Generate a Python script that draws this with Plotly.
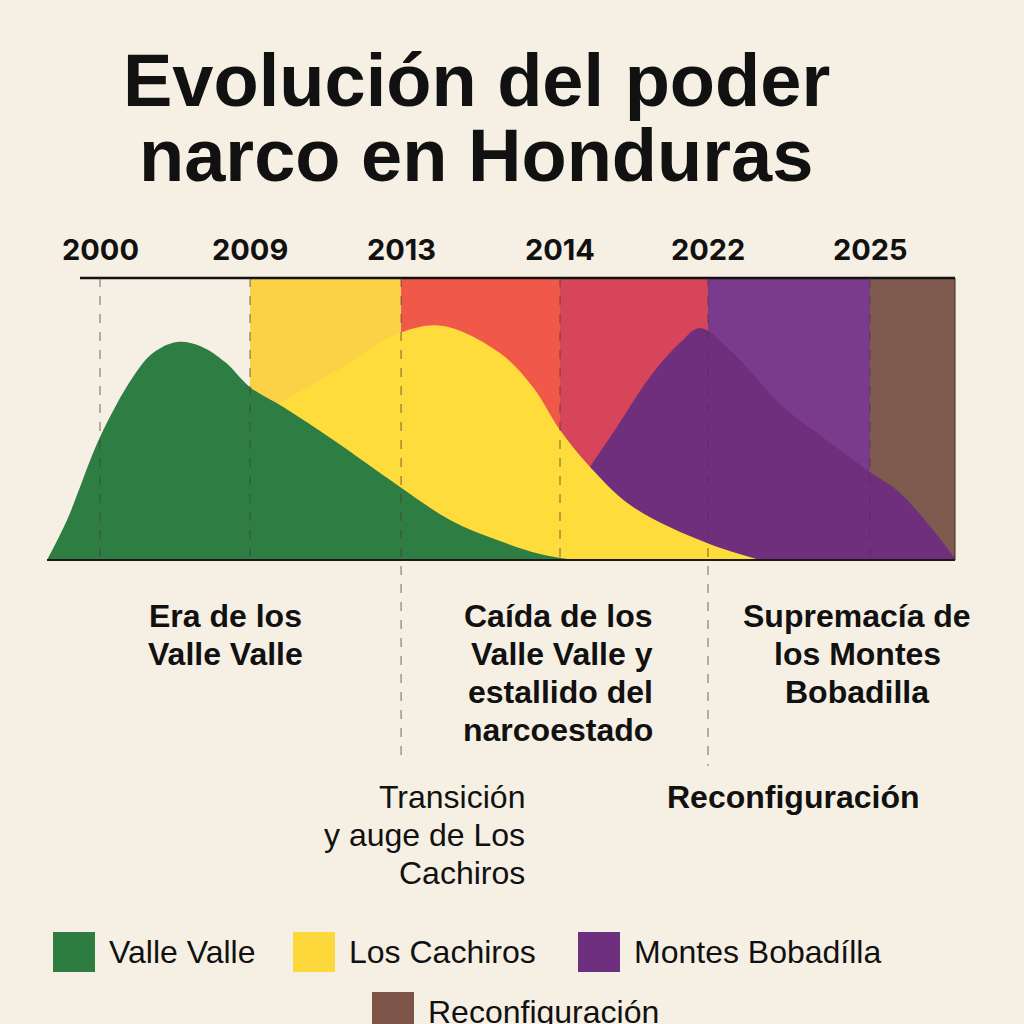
import plotly.graph_objects as go

# ---------------- data ----------------
years = ["2000", "2009", "2013", "2014", "2022", "2025"]
# position of each year on the (non-linear) timeline axis
year_pos = [0.0, 0.974, 1.955, 2.987, 3.948, 5.0]
timeline_end = 5.552
timeline_start = -0.13
baseline_start = -0.344

band_colors = ["#fbd145", "#f0584a", "#d6455a", "#7a3b8c", "#7e5a4f"]

valle_x = [-0.344, -0.214, 0.0, 0.214, 0.344, 0.5, 0.649, 0.812, 0.974, 1.188, 1.513, 1.948, 2.273, 2.597, 2.857, 3.084]
valle_y = [0, 14.2, 43.6, 64.9, 73.4, 77.3, 75.9, 70.2, 61.3, 54.3, 42.6, 25.9, 14.2, 6.7, 2.1, 0]

cachiros_x = [0.519, 0.747, 0.974, 1.149, 1.558, 1.948, 2.227, 2.597, 2.812, 2.987, 3.182, 3.461, 3.942, 4.286]
cachiros_y = [0, 25, 49, 55, 68, 80.5, 83, 73.4, 61.3, 46.1, 33, 18.8, 6, 0]

montes_x = [2.792, 2.987, 3.182, 3.357, 3.571, 3.766, 3.896, 4.110, 4.435, 4.656, 4.981, 5.195, 5.409, 5.552]
montes_y = [0, 15, 33, 47.2, 64.9, 77, 82.3, 73.4, 54.3, 45.0, 31.9, 23.8, 10.6, 0.5]

legend_names = ["Valle Valle", "Los Cachiros", "Montes Bobadílla", "Reconfiguración"]
legend_colors = ["#2e7d40", "#fdd83a", "#6e2f7e", "#7d5548"]

title_lines = ["Evolución del poder", "narco en Honduras"]
label_era = ["Era de los", "Valle Valle"]
label_caida = ["Caída de los", "Valle Valle y", "estallido del", "narcoestado"]
label_supremacia = ["Supremacía de", "los Montes", "Bobadilla"]
label_transicion = ["Transición", "y auge de Los", "Cachiros"]
label_reconf = ["Reconfiguración"]

BG = "#f6efe3"
FONT = "'Liberation Sans', Arial, sans-serif"
YEAR_FONT = "Inter, 'Liberation Sans', sans-serif"

fig = go.Figure()

# draw order: Montes (back), Cachiros, Valle Valle (front)
fig.add_trace(go.Scatter(x=montes_x, y=montes_y, mode="lines", line=dict(width=0, shape="spline", smoothing=1.0),
                         fill="tozeroy", fillcolor="#6f2f7d", name=legend_names[2], showlegend=False, hoverinfo="skip"))
fig.add_trace(go.Scatter(x=cachiros_x, y=cachiros_y, mode="lines", line=dict(width=0, shape="spline", smoothing=1.0),
                         fill="tozeroy", fillcolor="#fedc3c", name=legend_names[1], showlegend=False, hoverinfo="skip"))
fig.add_trace(go.Scatter(x=valle_x, y=valle_y, mode="lines", line=dict(width=0, shape="spline", smoothing=1.0),
                         fill="tozeroy", fillcolor="#2e7d42", name=legend_names[0], showlegend=False, hoverinfo="skip"))

shapes = []
# period background bands
edges = year_pos[1:] + [timeline_end]
for i, c in enumerate(band_colors):
    shapes.append(dict(type="rect", xref="x", yref="y", x0=edges[i], x1=edges[i + 1], y0=0, y1=100,
                       fillcolor=c, line=dict(width=0), layer="below"))
# top timeline line
shapes.append(dict(type="line", xref="x", yref="y", x0=timeline_start, x1=timeline_end, y0=100, y1=100,
                   line=dict(color="#111111", width=2.5), layer="above"))
# baseline
shapes.append(dict(type="line", xref="x", yref="y", x0=baseline_start, x1=timeline_end, y0=0, y1=0,
                   line=dict(color="#1a1a1a", width=2), layer="above"))
# right edge of last band
shapes.append(dict(type="line", xref="x", yref="y", x0=timeline_end, x1=timeline_end, y0=0, y1=100,
                   line=dict(color="#3a2a25", width=1), layer="above"))
# dashed year markers
dash_bottom = [-2, 0, -71, 0, -73, 0]
for p, b in zip(year_pos, dash_bottom):
    shapes.append(dict(type="line", xref="x", yref="y", x0=p, x1=p, y0=100, y1=b,
                       line=dict(color="rgba(70,60,50,0.75)", width=1, dash="dash"), layer="above"))


def px(x):
    return x / 1024.0


def py(y):
    return 1 - y / 1024.0


annotations = []


def add_lines(lines, x, y0, step, anchor, size, bold=True):
    for k, t in enumerate(lines):
        txt = "<b>" + t + "</b>" if bold else t
        annotations.append(dict(xref="paper", yref="paper", x=px(x), y=py(y0 + k * step), text=txt,
                                showarrow=False, xanchor=anchor, yanchor="middle",
                                font=dict(family=FONT, size=size, color="#111111")))


# title
add_lines(title_lines, 476, 80, 75, "center", 74)
# year labels
for yr, p in zip(years, year_pos):
    annotations.append(dict(xref="x", yref="paper", x=p, y=py(249), text="<b>" + yr + "</b>", showarrow=False,
                            xanchor="center", yanchor="middle", font=dict(family=YEAR_FONT, size=29, color="#111111")))
# period descriptions
add_lines(label_era, 225, 616, 38, "center", 32)
add_lines(label_caida, 655, 616, 38, "right", 32)
add_lines(label_supremacia, 857, 616, 38, "center", 32)
add_lines(label_transicion, 527, 797, 38, "right", 32, bold=False)
add_lines(label_reconf, 665, 797, 38, "left", 32)

# legend (drawn manually)
legend_items = [(53, 952), (293, 952), (578, 952), (372, 1012)]
for (lx, ly), name, col in zip(legend_items, legend_names, legend_colors):
    shapes.append(dict(type="rect", xref="paper", yref="paper", x0=px(lx), x1=px(lx + 42),
                       y0=py(ly - 20), y1=py(ly + 20), fillcolor=col, line=dict(width=0)))
    annotations.append(dict(xref="paper", yref="paper", x=px(lx + 54), y=py(ly), text=name, showarrow=False,
                            xanchor="left", yanchor="middle", font=dict(family=FONT, size=32, color="#111111")))

fig.update_layout(
    width=1024, height=1024,
    margin=dict(l=0, r=0, t=0, b=0),
    paper_bgcolor=BG, plot_bgcolor=BG,
    showlegend=False,
    xaxis=dict(range=[-100 / 154, 924 / 154], visible=False, fixedrange=True),
    yaxis=dict(range=[-464 / 2.82, 560 / 2.82], visible=False, fixedrange=True),
    shapes=shapes,
    annotations=annotations,
)

fig.write_html("out.html", config={"displayModeBar": False})
